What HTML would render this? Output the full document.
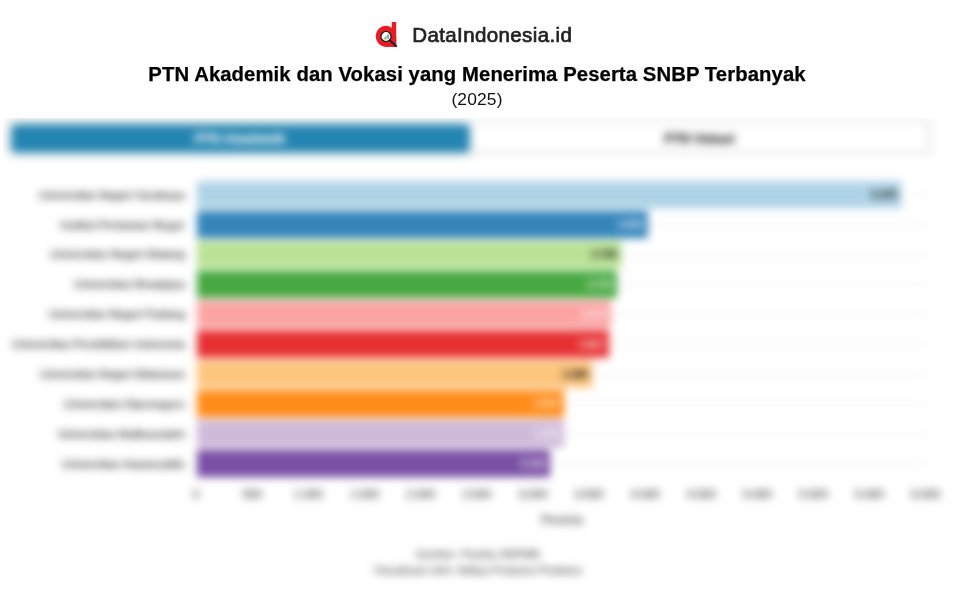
<!DOCTYPE html>
<html lang="id"><head><meta charset="utf-8"><title>PTN Akademik dan Vokasi yang Menerima Peserta SNBP Terbanyak</title>
<style>
html,body{margin:0;padding:0;background:#fff;}
body{width:954px;height:596px;position:relative;overflow:hidden;font-family:"Liberation Sans",sans-serif;}
.logo{position:absolute;left:370px;top:16px;width:32px;height:36px;}
.brand{position:absolute;left:412.3px;top:22px;height:26px;line-height:26px;font-size:20.5px;color:#222;white-space:nowrap;letter-spacing:0.38px;-webkit-text-stroke:0.7px #222;}
.title{position:absolute;left:0;width:954px;top:62px;text-align:center;font-weight:bold;font-size:20.3px;line-height:24px;color:#000;white-space:nowrap;letter-spacing:0.09px;-webkit-text-stroke:0.25px #000;}
.sub{position:absolute;left:0;width:954px;top:87.5px;text-align:center;font-size:17.4px;line-height:22px;color:#111;letter-spacing:0.15px;}
.chart{position:absolute;left:0;top:118px;width:954px;clip-path:inset(0 3px 0 3px);height:478px;overflow:hidden;}
.inner{position:absolute;left:0;top:0;width:954px;height:478px;filter:blur(4.5px);}
.band{position:absolute;left:5px;top:1px;width:928px;height:36.5px;background:#f2f2f2;border-radius:4px;}
.tab{position:absolute;top:7px;height:26.5px;line-height:27.5px;text-align:center;font-size:13px;font-weight:bold;-webkit-text-stroke:0.3px currentColor;border-radius:4px;}
.tab.a{left:11.5px;width:457px;background:#2585b2;color:#fff;box-shadow:0 0 6px 2px rgba(37,133,178,.4);}
.tab.b{left:473px;width:453px;background:#fff;color:#222;top:6px;height:26px;line-height:29px;}
svg{position:absolute;left:0;top:0;}
svg text{font-family:"Liberation Sans",sans-serif;}
</style></head><body>
<svg class="logo" width="32" height="36" viewBox="0 0 32 36">
<ellipse cx="15.9" cy="20.3" rx="10.2" ry="10.6" fill="#e81c24"/>
<rect x="21.8" y="6" width="4.4" height="24.9" fill="#e81c24"/>
<rect x="16" y="20.3" width="10.2" height="10.6" fill="#e81c24"/>
<circle cx="16" cy="20.5" r="5.05" fill="#fff" stroke="#222" stroke-width="1.3"/>
<rect x="13.8" y="21.2" width="1" height="2.4" fill="#f59b23"/>
<rect x="15.5" y="19.8" width="1" height="3.8" fill="#4aa84d"/>
<rect x="17.4" y="18.5" width="1.3" height="4.2" fill="#2a7fc1"/>
<path d="M20 24.4l6.1 5.7" stroke="#222" stroke-width="2.1" stroke-linecap="round" fill="none"/>
</svg>
<div class="brand">DataIndonesia.id</div>
<div class="title"><span id="t">PTN Akademik dan Vokasi yang Menerima Peserta SNBP Terbanyak</span></div>
<div class="sub"><span id="s">(2025)</span></div>
<div class="chart"><div class="inner">
<div class="band"></div><div class="tab a">PTN Akademik</div><div class="tab b">PTN Vokasi</div>
<svg width="954" height="478" viewBox="0 0 954 478">
<line x1="197" y1="76.69" x2="926" y2="76.69" stroke="#e6e6e6" stroke-width="1"/>
<line x1="197" y1="106.56" x2="926" y2="106.56" stroke="#e6e6e6" stroke-width="1"/>
<line x1="197" y1="136.43" x2="926" y2="136.43" stroke="#e6e6e6" stroke-width="1"/>
<line x1="197" y1="166.30" x2="926" y2="166.30" stroke="#e6e6e6" stroke-width="1"/>
<line x1="197" y1="196.16" x2="926" y2="196.16" stroke="#e6e6e6" stroke-width="1"/>
<line x1="197" y1="226.03" x2="926" y2="226.03" stroke="#e6e6e6" stroke-width="1"/>
<line x1="197" y1="255.90" x2="926" y2="255.90" stroke="#e6e6e6" stroke-width="1"/>
<line x1="197" y1="285.77" x2="926" y2="285.77" stroke="#e6e6e6" stroke-width="1"/>
<line x1="197" y1="315.64" x2="926" y2="315.64" stroke="#e6e6e6" stroke-width="1"/>
<line x1="197" y1="345.51" x2="926" y2="345.51" stroke="#e6e6e6" stroke-width="1"/>
<rect x="197" y="63.05" width="704.5" height="27.27" fill="#a6cee3" fill-opacity="0.9"/>
<text x="185" y="80.69" text-anchor="end" font-size="11.5" fill="#111" stroke="#111" stroke-width="0.15" textLength="146" lengthAdjust="spacingAndGlyphs">Universitas Negeri Surabaya</text>
<text x="896.9" y="80.39" text-anchor="end" font-size="10.2" font-weight="bold" fill="#111" stroke="#111" stroke-width="0.1" opacity="1">6.224</text>
<rect x="197" y="92.92" width="451" height="27.27" fill="#1f78b4" fill-opacity="0.9"/>
<text x="185" y="110.56" text-anchor="end" font-size="11.5" fill="#111" stroke="#111" stroke-width="0.15" textLength="124.6" lengthAdjust="spacingAndGlyphs">Institut Pertanian Bogor</text>
<text x="643.4" y="110.26" text-anchor="end" font-size="10.2" font-weight="bold" fill="#fff" stroke="#fff" stroke-width="0.1" opacity="0.85">4.004</text>
<rect x="197" y="122.79" width="424.5" height="27.27" fill="#b2df8a" fill-opacity="0.9"/>
<text x="185" y="140.43" text-anchor="end" font-size="11.5" fill="#111" stroke="#111" stroke-width="0.15" textLength="134.7" lengthAdjust="spacingAndGlyphs">Universitas Negeri Malang</text>
<text x="616.9" y="140.12" text-anchor="end" font-size="10.2" font-weight="bold" fill="#111" stroke="#111" stroke-width="0.1" opacity="1">3.745</text>
<rect x="197" y="152.66" width="420" height="27.27" fill="#33a02c" fill-opacity="0.9"/>
<text x="185" y="170.30" text-anchor="end" font-size="11.5" fill="#111" stroke="#111" stroke-width="0.15" textLength="111" lengthAdjust="spacingAndGlyphs">Universitas Brawijaya</text>
<text x="612.4" y="170.00" text-anchor="end" font-size="10.2" font-weight="bold" fill="#fff" stroke="#fff" stroke-width="0.1" opacity="0.85">3.729</text>
<rect x="197" y="182.53" width="414" height="27.27" fill="#fb9a99" fill-opacity="0.9"/>
<text x="185" y="200.17" text-anchor="end" font-size="11.5" fill="#111" stroke="#111" stroke-width="0.15" textLength="136" lengthAdjust="spacingAndGlyphs">Universitas Negeri Padang</text>
<text x="606.4" y="199.87" text-anchor="end" font-size="10.2" font-weight="bold" fill="#fff" stroke="#fff" stroke-width="0.1" opacity="0.85">3.676</text>
<rect x="197" y="212.40" width="412" height="27.27" fill="#e31a1c" fill-opacity="0.9"/>
<text x="185" y="230.04" text-anchor="end" font-size="11.5" fill="#111" stroke="#111" stroke-width="0.15" textLength="173" lengthAdjust="spacingAndGlyphs">Universitas Pendidikan Indonesia</text>
<text x="604.4" y="229.74" text-anchor="end" font-size="10.2" font-weight="bold" fill="#fff" stroke="#fff" stroke-width="0.1" opacity="0.85">3.667</text>
<rect x="197" y="242.27" width="395.5" height="27.27" fill="#fdbf6f" fill-opacity="0.9"/>
<text x="185" y="259.91" text-anchor="end" font-size="11.5" fill="#111" stroke="#111" stroke-width="0.15" textLength="145" lengthAdjust="spacingAndGlyphs">Universitas Negeri Makassar</text>
<text x="587.9" y="259.61" text-anchor="end" font-size="10.2" font-weight="bold" fill="#111" stroke="#111" stroke-width="0.1" opacity="1">3.489</text>
<rect x="197" y="272.14" width="367" height="27.27" fill="#ff7f00" fill-opacity="0.9"/>
<text x="185" y="289.78" text-anchor="end" font-size="11.5" fill="#111" stroke="#111" stroke-width="0.15" textLength="121" lengthAdjust="spacingAndGlyphs">Universitas Diponegoro</text>
<text x="559.4" y="289.48" text-anchor="end" font-size="10.2" font-weight="bold" fill="#fff" stroke="#fff" stroke-width="0.1" opacity="0.85">3.267</text>
<rect x="197" y="302.01" width="367" height="27.27" fill="#cab2d6" fill-opacity="0.9"/>
<text x="185" y="319.65" text-anchor="end" font-size="11.5" fill="#111" stroke="#111" stroke-width="0.15" textLength="127" lengthAdjust="spacingAndGlyphs">Universitas Malikussaleh</text>
<text x="559.4" y="319.35" text-anchor="end" font-size="10.2" font-weight="bold" fill="#fff" stroke="#fff" stroke-width="0.1" opacity="0.85">3.258</text>
<rect x="197" y="331.88" width="353" height="27.27" fill="#6a3d9a" fill-opacity="0.9"/>
<text x="185" y="349.51" text-anchor="end" font-size="11.5" fill="#111" stroke="#111" stroke-width="0.15" textLength="123" lengthAdjust="spacingAndGlyphs">Universitas Hasanuddin</text>
<text x="545.4" y="349.21" text-anchor="end" font-size="10.2" font-weight="bold" fill="#fff" stroke="#fff" stroke-width="0.1" opacity="0.85">3.125</text>
<text x="196.3" y="379.5" text-anchor="middle" font-size="11.5" fill="#1a1a1a" stroke="#1a1a1a" stroke-width="0.15">0</text>
<text x="252.4" y="379.5" text-anchor="middle" font-size="11.5" fill="#1a1a1a" stroke="#1a1a1a" stroke-width="0.15">500</text>
<text x="308.5" y="379.5" text-anchor="middle" font-size="11.5" fill="#1a1a1a" stroke="#1a1a1a" stroke-width="0.15">1.000</text>
<text x="364.6" y="379.5" text-anchor="middle" font-size="11.5" fill="#1a1a1a" stroke="#1a1a1a" stroke-width="0.15">1.500</text>
<text x="420.7" y="379.5" text-anchor="middle" font-size="11.5" fill="#1a1a1a" stroke="#1a1a1a" stroke-width="0.15">2.000</text>
<text x="476.8" y="379.5" text-anchor="middle" font-size="11.5" fill="#1a1a1a" stroke="#1a1a1a" stroke-width="0.15">2.500</text>
<text x="532.9" y="379.5" text-anchor="middle" font-size="11.5" fill="#1a1a1a" stroke="#1a1a1a" stroke-width="0.15">3.000</text>
<text x="589.0" y="379.5" text-anchor="middle" font-size="11.5" fill="#1a1a1a" stroke="#1a1a1a" stroke-width="0.15">3.500</text>
<text x="645.1" y="379.5" text-anchor="middle" font-size="11.5" fill="#1a1a1a" stroke="#1a1a1a" stroke-width="0.15">4.000</text>
<text x="701.2" y="379.5" text-anchor="middle" font-size="11.5" fill="#1a1a1a" stroke="#1a1a1a" stroke-width="0.15">4.500</text>
<text x="757.3" y="379.5" text-anchor="middle" font-size="11.5" fill="#1a1a1a" stroke="#1a1a1a" stroke-width="0.15">5.000</text>
<text x="813.4" y="379.5" text-anchor="middle" font-size="11.5" fill="#1a1a1a" stroke="#1a1a1a" stroke-width="0.15">5.500</text>
<text x="869.5" y="379.5" text-anchor="middle" font-size="11.5" fill="#1a1a1a" stroke="#1a1a1a" stroke-width="0.15">6.000</text>
<text x="925.6" y="379.5" text-anchor="middle" font-size="11.5" fill="#1a1a1a" stroke="#1a1a1a" stroke-width="0.15">6.500</text>
<text x="562" y="406" text-anchor="middle" font-size="12" fill="#222">Peserta</text>
<text x="477.5" y="439.5" text-anchor="middle" font-size="11.5" fill="#2a2a2a" textLength="124" lengthAdjust="spacingAndGlyphs">Sumber: Panitia SNPMB</text>
<text x="477.5" y="455.5" text-anchor="middle" font-size="11.5" fill="#2a2a2a" textLength="208" lengthAdjust="spacingAndGlyphs">Visualisasi oleh: Aditya Pratama Pradana</text>
</svg>
</div></div>
</body></html>
